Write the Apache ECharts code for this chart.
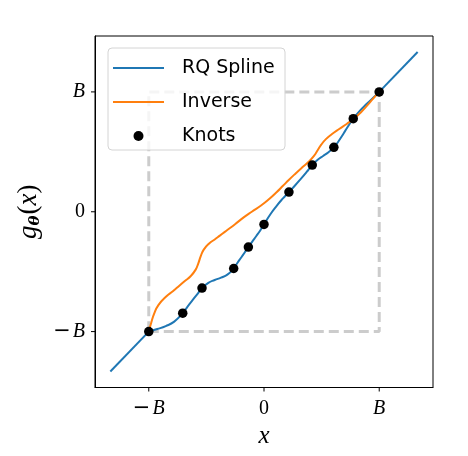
<!DOCTYPE html>
<html>
<head>
<meta charset="utf-8">
<script src="https://cdn.jsdelivr.net/npm/echarts@6/dist/echarts.min.js"></script>
<style>html,body{margin:0;padding:0;background:#fff}#c{width:468px;height:456px}</style>
</head>
<body>
<div id="c"></div>
<script>
// ---- data (B = 3) ----
var B = 3;
var axisMin = -4.4, axisMax = 4.4;
var tickValues = [-3, 0, 3];
var tickLabels = ['{m|\u2212}{i|B}', '{n|0}', '{i|B}'];
var knotsX = [-3, -2.116, -1.614, -0.789, -0.407, 0, 0.649, 1.257, 1.819, 2.324, 3];
var knotsY = [-3, -2.539, -1.912, -1.421, -0.885, -0.318, 0.494, 1.170, 1.612, 2.331, 3];
var splineX = [-3, -2.779, -2.558, -2.337, -2.116, -1.990, -1.865, -1.740, -1.614, -1.449, -1.284, -1.119, -0.954, -0.789, -0.694, -0.598, -0.503, -0.407, -0.305, -0.204, -0.102, 0, 0.162, 0.325, 0.487, 0.649, 0.801, 0.953, 1.105, 1.257, 1.398, 1.538, 1.679, 1.819, 1.945, 2.072, 2.198, 2.324, 2.493, 2.662, 2.831, 3];
var splineY = [-3, -2.936, -2.862, -2.750, -2.539, -2.373, -2.219, -2.069, -1.912, -1.779, -1.708, -1.649, -1.573, -1.421, -1.283, -1.151, -1.020, -0.885, -0.746, -0.613, -0.475, -0.318, -0.068, 0.143, 0.327, 0.494, 0.651, 0.817, 0.990, 1.170, 1.301, 1.397, 1.490, 1.612, 1.771, 1.958, 2.153, 2.331, 2.526, 2.689, 2.841, 3];
var tailLowerX = [-4, -3], tailLowerY = [-4, -3];
var tailUpperX = [3, 4], tailUpperY = [3, 4];

function zip(a, b) { return a.map(function (v, i) { return [v, b[i]]; }); }
var splineData = zip(splineX, splineY);
var inverseData = zip(splineY, splineX); // inverse = reflection of the spline
var boxData = [[-B, -B], [B, -B], [B, B], [-B, B], [-B, -B]];

var blue = '#1f77b4', orange = '#ff7f0e';
var mathRich = {
  i: { fontFamily: 'Liberation Serif', fontStyle: 'italic', fontSize: 20, color: '#000' },
  n: { fontFamily: 'Liberation Serif', fontSize: 20, color: '#000' },
  m: { fontFamily: 'DejaVu Sans', fontSize: 21, color: '#000', padding: [0, 2, 0, 0] }
};
function fmt(v) { var k = tickValues.indexOf(v); return k >= 0 ? tickLabels[k] : ''; }

var legendBox = {
  type: 'rect', z: 4, zlevel: 0,
  shape: { x: 108, y: 48, width: 177, height: 102, r: 4 },
  style: { fill: 'rgba(255,255,255,0.8)', stroke: '#d4d4d4', lineWidth: 1 }
};

var chart = echarts.init(document.getElementById('c'), null, { renderer: 'canvas' });
chart.setOption({
  animation: false,
  backgroundColor: '#fff',
  grid: { left: 95, top: 36, width: 338, height: 351.5, show: true, borderColor: '#000', borderWidth: 1, backgroundColor: 'transparent' },
  xAxis: {
    type: 'value', min: axisMin, max: axisMax,
    name: '{i|x}', nameLocation: 'middle', nameGap: 35,
    nameTextStyle: { rich: { i: { fontFamily: 'Liberation Serif', fontStyle: 'italic', fontSize: 25, color: '#000' } } },
    axisLine: { show: true, onZero: false, lineStyle: { color: '#000', width: 1 } },
    splitLine: { show: false },
    axisTick: { show: false },
    axisLabel: { customValues: tickValues, formatter: fmt, margin: 11, rich: mathRich }
  },
  yAxis: {
    type: 'value', min: axisMin, max: axisMax,
    name: '{i|g}{s|\u03b8}{n|(}{i|x}{n|)}', nameLocation: 'middle', nameGap: 48, nameRotate: 90,
    nameTextStyle: { rich: {
      i: { fontFamily: 'Liberation Serif', fontStyle: 'italic', fontSize: 27, color: '#000' },
      n: { fontFamily: 'Liberation Serif', fontSize: 27, color: '#000' },
      s: { fontFamily: 'DejaVu Serif', fontStyle: 'italic', fontWeight: 'bold', fontSize: 15, color: '#000', padding: [12, 1, 0, 0] }
    } },
    axisLine: { show: true, onZero: false, lineStyle: { color: '#000', width: 1 } },
    splitLine: { show: false },
    axisTick: { show: false },
    axisLabel: { customValues: tickValues, formatter: fmt, margin: 10, rich: mathRich }
  },
  legend: {
    orient: 'vertical', left: 113, top: 58, padding: 0, itemGap: 14, itemWidth: 51, itemHeight: 10,
    data: [
      { name: 'RQ Spline', icon: 'path://M0,0H50V2H0Z' },
      { name: 'Inverse', icon: 'path://M0,0H50V2H0Z' },
      { name: 'Knots', icon: 'circle' }
    ],
    textStyle: { fontFamily: 'DejaVu Sans', fontSize: 19, color: '#000', lineHeight: 20, padding: [0, 0, 0, 13] },
    z: 5
  },
  graphic: [legendBox],
  series: [
    { type: 'line', name: 'box', data: boxData, symbol: 'none', z: 1,
      lineStyle: { color: '#cccccc', width: 3, type: [10, 5] }, silent: true },
    { type: 'line', name: 'RQ Spline', data: splineData, symbol: 'none', smooth: 0.5, z: 2,
      lineStyle: { color: blue, width: 2 }, itemStyle: { color: blue } },
    { type: 'line', name: 'tailL', data: zip(tailLowerX, tailLowerY), symbol: 'none', z: 2, lineStyle: { color: blue, width: 2 } },
    { type: 'line', name: 'tailU', data: zip(tailUpperX, tailUpperY), symbol: 'none', z: 2, lineStyle: { color: blue, width: 2 } },
    { type: 'line', name: 'Inverse', data: inverseData, symbol: 'none', smooth: 0.5, z: 2,
      lineStyle: { color: orange, width: 2 }, itemStyle: { color: orange } },
    { type: 'scatter', name: 'Knots', data: zip(knotsX, knotsY), symbol: 'circle', symbolSize: 9.5, z: 3,
      itemStyle: { color: '#000', opacity: 1 } }
  ]
});

// outward tick marks placed through the chart's own scales
var tickLen = 4;
var tickEls = [legendBox];
tickValues.forEach(function (v) {
  var px = chart.convertToPixel({ gridIndex: 0 }, [v, axisMin]);
  tickEls.push({ type: 'line', z: 5, shape: { x1: px[0], y1: px[1], x2: px[0], y2: px[1] + tickLen }, style: { stroke: '#000', lineWidth: 1 } });
  var py = chart.convertToPixel({ gridIndex: 0 }, [axisMin, v]);
  tickEls.push({ type: 'line', z: 5, shape: { x1: py[0] - tickLen, y1: py[1], x2: py[0], y2: py[1] }, style: { stroke: '#000', lineWidth: 1 } });
});
chart.setOption({ graphic: tickEls });
</script>
</body>
</html>
